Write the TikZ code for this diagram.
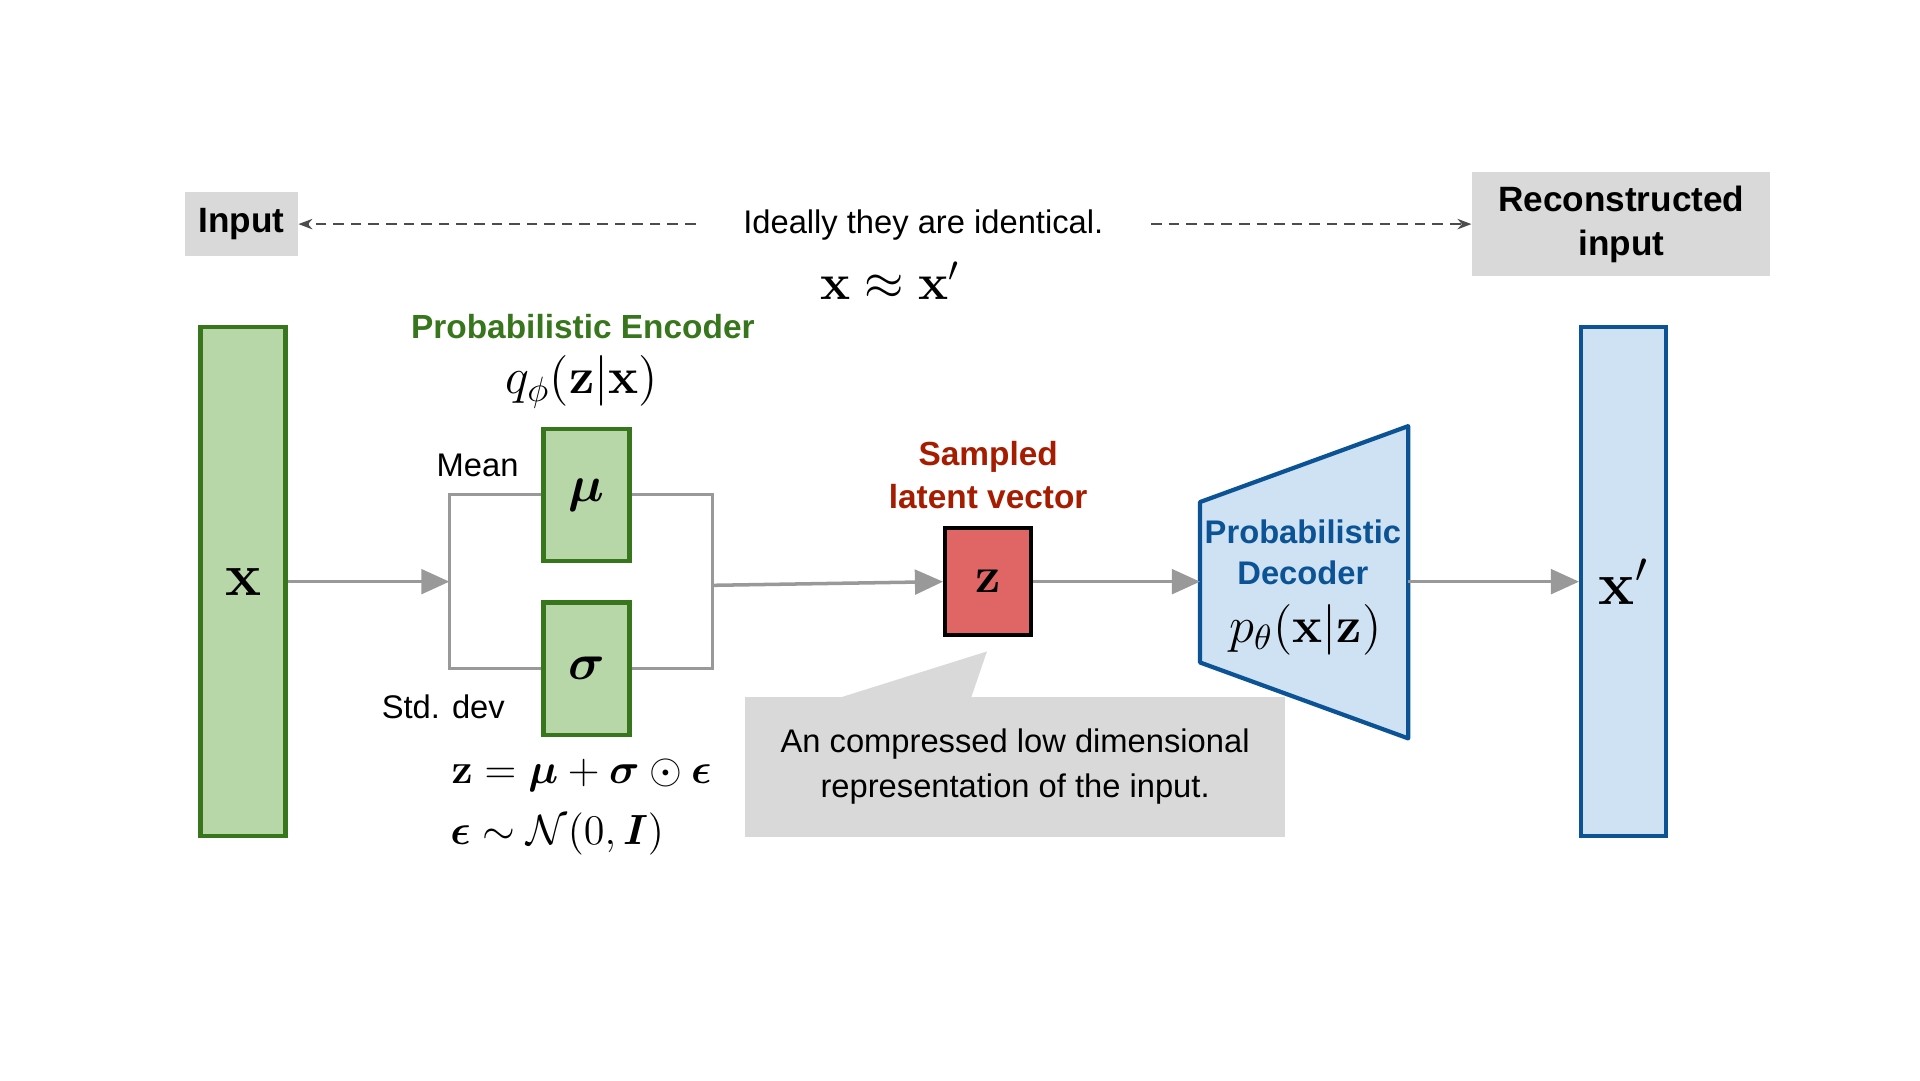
\documentclass[tikz,border=0pt]{standalone}
\usepackage{amsmath,bm}
\usepackage[no-math]{fontspec}
\setmainfont{Liberation Sans}
\usetikzlibrary{arrows.meta}
\definecolor{encgreen}{HTML}{38761D}
\definecolor{encfill}{HTML}{B7D7A8}
\definecolor{decblue}{HTML}{0B5394}
\definecolor{decfill}{HTML}{CFE2F3}
\definecolor{zred}{HTML}{E06666}
\definecolor{zdark}{HTML}{A61C00}
\definecolor{boxgrey}{HTML}{D9D9D9}
\definecolor{linegrey}{HTML}{999999}
\tikzset{
  layer/.style={draw=#1, line width=1.2pt, minimum width=0.85cm, minimum height=5.09cm, inner sep=0pt},
  param/.style={draw=encgreen, fill=encfill, line width=1.2pt, minimum width=0.86cm, minimum height=1.32cm, inner sep=0pt},
  greybox/.style={fill=boxgrey, align=center, inner sep=0pt},
  flow/.style={linegrey, line width=1pt, -{Triangle[length=8pt,width=7pt]}},
  link/.style={linegrey, line width=1pt},
  ideal/.style={black!70, densely dashed, -{Stealth[length=4pt]}},
  txt/.style={font=\fontsize{9.3}{11}\selectfont, align=center, inner sep=0pt}
}
\begin{document}
\begin{tikzpicture}[x=0.012245cm, y=-0.012245cm]
\useasboundingbox (0,0) rectangle (1568,882);
% top row
\node (input) [greybox, minimum width=1.13cm, minimum height=0.64cm, font=\fontsize{10}{12}\selectfont\bfseries] at (197,183) {Input};
\node (recon) [greybox, minimum width=2.98cm, minimum height=1.04cm, font=\fontsize{10}{12.5}\selectfont\bfseries] at (1324,183) {Reconstructed\\input};
\node (ideal) [txt] at (754,184) {Ideally they are identical.};
\node (approx) [txt, font=\Large] at (727,229) {$\mathbf{x}\approx\mathbf{x}'$};
\coordinate (il) at (568,183);
\coordinate (ir) at (940,183);
\draw[ideal] (il) -- (input);
\draw[ideal] (ir) -- (recon);
% encoder
\node (x) [layer=encgreen, fill=encfill] at (198.5,475) {\LARGE$\mathbf{x}$};
\node (enc) [txt, text=encgreen, font=\fontsize{9.5}{11}\selectfont\bfseries] at (476,267) {Probabilistic Encoder};
\node (q) [txt, font=\Large] at (475,312) {$q_\phi(\mathbf{z}|\mathbf{x})$};
\node (mu) [param] at (479,404) {\Large$\bm{\mu}$};
\node (sigma) [param] at (479,546) {\Large$\bm{\sigma}$};
\node (mean) [txt] at (390,380) {Mean};
\node (std) [txt] at (362,577) {Std. dev};
\node (eq1) [txt, font=\large] at (475,633) {$\mathbf{z}=\bm{\mu}+\bm{\sigma}\odot\bm{\epsilon}$};
\node (eq2) [txt, font=\large] at (455,681) {$\bm{\epsilon}\sim\mathcal{N}(0,\bm{I})$};
\coordinate (bl) at (367,475);
\coordinate (br) at (582,478);
\draw[link] (mu.east) -| (br) |- (sigma.east);
\draw[link] (mu.west) -| (bl) |- (sigma.west);
\draw[flow] (x.east) -- (bl);
% latent
\node (z) [draw=black, fill=zred, line width=1.2pt, minimum width=0.86cm, minimum height=1.065cm, inner sep=0pt] at (807,475) {\Large$\mathbf{z}$};
\node (sampled) [txt, text=zdark, font=\fontsize{9.5}{12}\selectfont\bfseries] at (807,388) {Sampled\\latent vector};
\draw[flow] (br) -- (z.west);
\node (note) [greybox, minimum width=5.39cm, minimum height=1.40cm, font=\fontsize{9.3}{13}\selectfont] at (829,626) {An compressed low dimensional\\representation of the input.};
\fill[boxgrey] (685,570) -- (806,532) -- (793,570) -- cycle;
% decoder
\coordinate (dl) at (980,475);
\coordinate (dr) at (1150,475);
\draw[decblue, fill=decfill, line width=1.2pt, line join=round] (980,410) -- (1150,348) -- (1150,603) -- (980,541) -- cycle;
\node (dec) [txt, text=decblue, font=\fontsize{9.3}{11.5}\selectfont\bfseries] at (1064,451) {Probabilistic\\Decoder};
\node (p) [txt, font=\Large] at (1066,514) {$p_\theta(\mathbf{x}|\mathbf{z})$};
\draw[flow] (z.east) -- (dl);
\node (xr) [layer=decblue, fill=decfill] at (1326,475) {\LARGE$\mathbf{x}'$};
\draw[flow] (dr) -- (xr.west);
\end{tikzpicture}
\end{document}
